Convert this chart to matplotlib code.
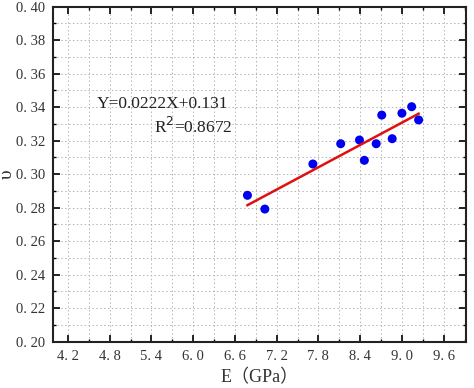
import matplotlib
matplotlib.use("Agg")
import matplotlib.pyplot as plt
import numpy as np
from matplotlib.ticker import MultipleLocator, FixedLocator

# Data
E_gpa = [6.78, 7.03, 7.72, 8.12, 8.39, 8.46, 8.63, 8.71, 8.86, 9.00, 9.14, 9.24]
nu = [0.2874, 0.2792, 0.3061, 0.3182, 0.3204, 0.3083, 0.3182, 0.3353, 0.3212, 0.3364, 0.3403, 0.3324]
fit_slope = 0.0222
fit_intercept = 0.131
r2_text = "0.8672"
x_ticks = [4.2, 4.8, 5.4, 6.0, 6.6, 7.2, 7.8, 8.4, 9.0, 9.6]
y_ticks = [0.20, 0.22, 0.24, 0.26, 0.28, 0.30, 0.32, 0.34, 0.36, 0.38, 0.40]

serif = ['Liberation Serif', 'Noto Sans CJK SC']

fig = plt.figure(figsize=(4.74, 3.88), dpi=100)
ax = fig.add_axes([0.1125, 0.1193, 0.983 - 0.1125, 0.9827 - 0.1193])

ax.set_xlim(3.99, 9.92)
ax.set_ylim(0.20, 0.40)

ax.xaxis.set_major_locator(FixedLocator(x_ticks))
ax.xaxis.set_minor_locator(MultipleLocator(0.3))
ax.yaxis.set_major_locator(FixedLocator(y_ticks))
ax.yaxis.set_minor_locator(MultipleLocator(0.01))

ax.set_xticklabels([f"{v:.1f}".replace('.', '. ') for v in x_ticks], family=serif, fontsize=10.5, color='#333333')
ax.set_yticklabels([f"{v:.2f}".replace('.', '. ') for v in y_ticks], family=serif, fontsize=10.5, color='#333333')

ax.tick_params(which='major', direction='in', length=5, width=1.2, top=True, right=True, pad=6)
ax.tick_params(which='minor', direction='in', length=2.5, width=1.0, top=True, right=True)

ax.grid(True, which='both', linestyle=(0, (1.5, 2.5)), color='#b4b4b4', linewidth=0.7)
ax.set_axisbelow(True)

for s in ax.spines.values():
    s.set_linewidth(1.5)
    s.set_color('#222222')

ax.scatter(E_gpa, nu, s=42, color='#0000f0', zorder=3, edgecolors='none')

xf = np.array([min(E_gpa), max(E_gpa)])
ax.plot(xf, fit_slope * xf + fit_intercept, color='#e01010', linewidth=1.8, zorder=4)

ax.text(4.62, 0.342, f"Y={fit_slope}X+{fit_intercept}", family=serif, fontsize=12.5, va='center', ha='left', color='#222222')
ax.text(5.43, 0.328, "R$^{2}$=" + r2_text, family=serif, fontsize=12.5, va='center', ha='left', color='#222222')

ax.set_xlabel("E（GPa）", family=serif, fontsize=13, color='#333333', labelpad=4)
ax.set_ylabel("υ", family=serif, fontsize=14, color='#333333', va='center')
ax.yaxis.set_label_coords(-0.112, 0.5)

fig.savefig("out.png", dpi=100, facecolor='white')
